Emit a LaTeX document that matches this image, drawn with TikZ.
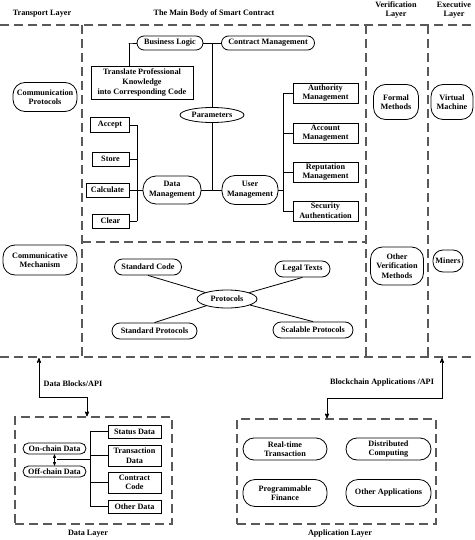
\documentclass[tikz,border=0pt]{standalone}
\usepackage{fontspec}
\setmainfont{Liberation Serif}
\usetikzlibrary{arrows,positioning,shapes.geometric}
\tikzset{
    %Define standard arrow tip
    >=stealth',
    font=\fontsize{8.2}{9.6}\selectfont\bfseries,
    %Define style for boxes
    rechteck/.style={
           rectangle,
           draw=black, thick,
           inner sep=1pt,
           align=center},
    % Define style for rounded boxes
    kapsel/.style={
           rectangle,
           rounded corners=#1,
           draw=black, thick,
           inner sep=1pt,
           align=center},
    kapsel/.default=7pt,
    oval/.style={ellipse,draw=black,thick,inner sep=0pt},
    titel/.style={align=center,inner sep=0pt},
    % Define arrow style
    pil/.style={
	   <->,
	   >=stealth',
           thick},
    linie/.style={thick},
    % Define style for layer borders
    trenn/.style={draw=black!65,line width=1.2pt,dash pattern=on 9pt off 5pt},
    zone/.style={rectangle,trenn,inner sep=0pt}
}

\begin{document}
\begin{tikzpicture}[x=1pt,y=-1pt]
  \useasboundingbox (0,0) rectangle (474,540);
  % layer borders
  \draw[trenn] (0,25) -- (474,25);
  \draw[trenn] (0,357) -- (474,357);
  \draw[trenn] (82,25) -- (82,357);
  \draw[trenn] (82,242) -- (366,242);
  \draw[trenn] (366,25) -- (366,357);
  \draw[trenn] (428,25) -- (428,357);

  % headings
  \node[titel] (tlayer) at (42,14) {Transport Layer};
  \node[titel] (mbody) at (214,14) {The Main Body of Smart Contract};
  \node[titel] (vlayer) at (396,10) {Verification\\Layer};
  \node[titel] (elayer) at (454,10) {Executive\\Layer};

  % transport, verification, executive
  \node[kapsel=12pt,minimum width=64,minimum height=29] (cprot) at (45,97) {Communication\\Protocols};
  \node[kapsel=12pt,minimum width=74,minimum height=30] (cmech) at (40,260) {Communicative\\Mechanism};
  \node[kapsel=12pt,minimum width=45,minimum height=35] (fmeth) at (396,102) {Formal\\Methods};
  \node[kapsel=12pt,minimum width=53,minimum height=38] (ovmeth) at (397,266) {Other\\Verification\\Methods};
  \node[kapsel=12pt,minimum width=42,minimum height=35] (vmach) at (452,102) {Virtual\\Machine};
  \node[kapsel=10pt,minimum width=30,minimum height=22] (miners) at (448,261) {Miners};

  % main body
  \node[kapsel,minimum width=66,minimum height=14] (blogic) at (170,43) {Business Logic};
  \node[kapsel,minimum width=93,minimum height=14] (cmgmt) at (268,43) {Contract Management};
  \node[rechteck,minimum width=102,minimum height=33] (transl) at (142,82.5) {Translate Professional\\Knowledge\\into Corresponding Code};
  \node[oval,minimum width=64,minimum height=15] (params) at (212,115) {Parameters};
  \node[rechteck,minimum width=39,minimum height=15] (accept) at (110,125) {Accept};
  \node[rechteck,minimum width=37,minimum height=14] (store) at (110.5,159) {Store};
  \node[rechteck,minimum width=43,minimum height=14] (calc) at (107.5,190) {Calculate};
  \node[rechteck,minimum width=37,minimum height=14] (clear) at (110.5,221) {Clear};
  \node[kapsel=13pt,minimum width=58,minimum height=28] (dmgmt) at (172,190) {Data\\Management};
  \node[kapsel=13pt,minimum width=56,minimum height=29] (umgmt) at (250,190) {User\\Management};
  \node[rechteck,minimum width=65,minimum height=20] (auth) at (325.5,93) {Authority\\Management};
  \node[rechteck,minimum width=65,minimum height=20] (account) at (325.5,133) {Account\\Management};
  \node[rechteck,minimum width=65,minimum height=20] (reput) at (325.5,172) {Reputation\\Management};
  \node[rechteck,minimum width=65,minimum height=20] (secur) at (325.5,211) {Security\\Authentication};

  \coordinate (lbus) at (137,0);
  \coordinate (rbus) at (283,0);
  \draw[linie] (blogic) -- (cmgmt);
  \draw[linie] (blogic.west) -- ++(-8,0) -| ([xshift=-13pt]transl.north);
  \draw[linie] (params.north) -- (params.north |- cmgmt.west);
  \draw[linie] (params.south) -- (params.south |- dmgmt.east);
  \draw[linie] (dmgmt) -- (umgmt);
  \draw[linie] (calc) -- (dmgmt);
  \draw[linie] (accept.east) -- (accept.east -| lbus);
  \draw[linie] (store.east) -- (store.east -| lbus);
  \draw[linie] (clear.east) -- (clear.east -| lbus);
  \draw[linie] (accept.east -| lbus) -- (clear.east -| lbus);
  \draw[linie] (umgmt.east) -- (umgmt.east -| rbus);
  \draw[linie] (auth.west) -- (auth.west -| rbus);
  \draw[linie] (account.west) -- (account.west -| rbus);
  \draw[linie] (reput.west) -- (reput.west -| rbus);
  \draw[linie] (secur.west) -- (secur.west -| rbus);
  \draw[linie] (auth.west -| rbus) -- (secur.west -| rbus);

  % protocols
  \node[oval,minimum width=60,minimum height=18] (proto) at (227,299) {Protocols};
  \node[kapsel=8pt,minimum width=67,minimum height=16] (scode) at (148,267) {Standard Code};
  \node[kapsel=8pt,minimum width=85,minimum height=16] (sprot) at (154.5,331) {Standard Protocols};
  \node[kapsel=8pt,minimum width=55,minimum height=16] (ltext) at (302.5,269) {Legal Texts};
  \node[kapsel=8pt,minimum width=80,minimum height=16] (scprot) at (313,330) {Scalable Protocols};
  \draw[linie] (scode.south) -- (proto);
  \draw[linie] (sprot.north) -- (proto);
  \draw[linie] (ltext.south) -- (proto);
  \draw[linie] (scprot.north) -- (proto);

  % data layer
  \node[zone,minimum width=157,minimum height=107] (dlayer) at (93.5,470.5) {};
  \node[titel] (dlabel) at (88,534) {Data Layer};
  \node[kapsel=5.5pt,minimum width=63,minimum height=11] (onchain) at (54.5,448.5) {On-chain Data};
  \node[kapsel=5.5pt,minimum width=63,minimum height=11] (offchain) at (54.5,471.5) {Off-chain Data};
  \node[rechteck,minimum width=53,minimum height=13] (sdata) at (134.5,431.5) {Status Data};
  \node[rechteck,minimum width=53,minimum height=21] (tdata) at (134.5,455.5) {Transaction\\Data};
  \node[rechteck,minimum width=53,minimum height=21] (ccode) at (134.5,482.5) {Contract\\Code};
  \node[rechteck,minimum width=53,minimum height=13] (odata) at (134.5,506.5) {Other Data};

  \coordinate (dbus) at (90,0);
  \coordinate (chainmid) at (57,459.5);
  \draw[pil,thin] (onchain.south) -- (offchain.north);
  \draw[linie] (chainmid) -- (chainmid -| dbus);
  \draw[linie] (sdata.west) -- (sdata.west -| dbus);
  \draw[linie] (tdata.west) -- (tdata.west -| dbus);
  \draw[linie] (ccode.west) -- (ccode.west -| dbus);
  \draw[linie] (odata.west) -- (odata.west -| dbus);
  \draw[linie] (sdata.west -| dbus) -- (odata.west -| dbus);

  % application layer
  \node[zone,minimum width=199,minimum height=105] (alayer) at (336.5,471.5) {};
  \node[titel] (alabel) at (340,534) {Application Layer};
  \node[kapsel=11pt,minimum width=84,minimum height=22] (rtime) at (285,449) {Real-time\\Transaction};
  \node[kapsel=11pt,minimum width=85,minimum height=22] (dcomp) at (388.5,449) {Distributed\\Computing};
  \node[kapsel=12pt,minimum width=84,minimum height=27] (pfin) at (285,493) {Programmable\\Finance};
  \node[kapsel=12pt,minimum width=85,minimum height=27] (oapps) at (388.5,493) {Other Applications};

  % interfaces
  \coordinate (dbtop) at (39,358);
  \coordinate (dbbend) at (39,397);
  \coordinate (bctop) at (442,358);
  \coordinate (bcbend) at (442,398);
  \draw[pil] (dbtop) -- (dbbend) -| ([xshift=-6.5pt]dlayer.north);
  \draw[pil] (bctop) -- (bcbend) -| ([xshift=-9.5pt]alayer.north);
  \node[titel] (dbapi) at (73,384) {Data Blocks/API};
  \node[titel] (bcapi) at (382,383) {Blockchain Applications /API};
\end{tikzpicture}
\end{document}
